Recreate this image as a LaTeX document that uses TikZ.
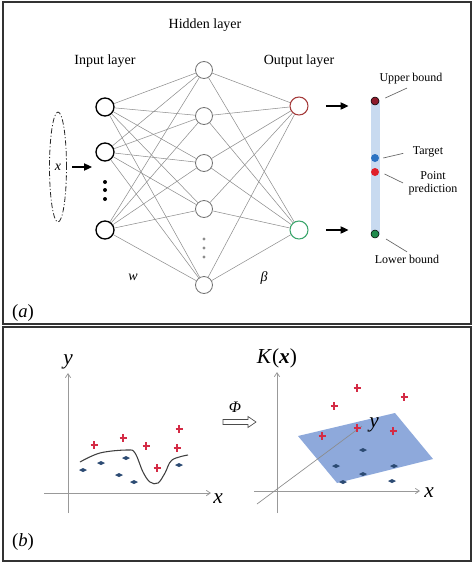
\documentclass[tikz,border=0pt]{standalone}
\usepackage{fontspec}
\setmainfont{Liberation Serif}
\usetikzlibrary{arrows.meta, shapes.geometric, positioning}

\definecolor{wiregray}{HTML}{8E8E8E}
\definecolor{outred}{HTML}{A53B3B}
\definecolor{outgreen}{HTML}{3CA66C}
\definecolor{barblue}{HTML}{C8DAF0}
\definecolor{ubred}{HTML}{8E1B2C}
\definecolor{tgblue}{HTML}{2B72C2}
\definecolor{ppred}{HTML}{E0202A}
\definecolor{lbgreen}{HTML}{1F8A4C}
\definecolor{plusred}{HTML}{D42B45}
\definecolor{diamblue}{HTML}{2C4B73}
\definecolor{planeblue}{HTML}{8EA9DB}

\tikzset{
  panel/.style={draw=black!80, line width=1pt},
  inneuron/.style={circle, draw=black, line width=1pt, fill=white, minimum size=13.5pt, inner sep=0pt},
  hidneuron/.style={circle, draw=black!55, line width=0.6pt, fill=white, minimum size=12.75pt, inner sep=0pt},
  outneuron/.style={circle, line width=0.8pt, fill=white, minimum size=13.5pt, inner sep=0pt},
  wire/.style={draw=wiregray, line width=0.4pt},
  arr/.style={line width=0.8pt, -{Triangle[length=6pt,width=5.5pt]}},
  small/.style={font=\fontsize{9}{10}\selectfont, inner sep=1pt},
  lead/.style={draw=black!60, line width=0.5pt},
  dotmark/.style={circle, minimum size=6pt, inner sep=0pt},
  axis/.style={draw=black!40, line width=0.6pt, -{Straight Barb[length=3pt,width=4pt]}},
  axlabel/.style={font=\fontsize{16}{18}\selectfont\itshape, inner sep=1pt},
  plusmk/.style={draw=plusred, line width=1.1pt},
  panellabel/.style={font=\fontsize{14}{16}\selectfont},
}

\begin{document}
\begin{tikzpicture}[x=0.75pt, y=-0.75pt, font=\fontsize{10.5}{12}\selectfont]
    \useasboundingbox (0,0) rectangle (474,568);

    % Panels
    \draw[panel] (3,2) rectangle (471,324);
    \draw[panel] (3,327) rectangle (471,561);

    % ================================
    % (a) network

    % Layer titles
    \node (hidl) at (205,25) {Hidden layer};
    \node (inl) at (105,61) {Input layer};
    \node (outl) at (299,61) {Output layer};

    % Input layer
    \foreach \n/\y in {1/107, 2/152, 3/230}
        \node[inneuron] (in\n) at (105,\y) {};
    \foreach \y in {182,190,199}
        \fill (105,\y) circle (1.5pt);

    % Hidden layer
    \foreach \n/\y in {1/70, 2/116, 3/163, 4/209, 5/285}
        \node[hidneuron] (hid\n) at (204,\y) {};
    \foreach \y in {239,248,257}
        \fill[black!45] (204,\y) circle (1.2pt);

    % Output layer
    \node[outneuron, draw=outred] (out1) at (299,106) {};
    \node[outneuron, draw=outgreen] (out2) at (299,230) {};

    % Weights
    \foreach \i in {1,2,3}
        \foreach \j in {1,...,5}
            \draw[wire] (in\i) -- (hid\j);
    \foreach \j in {1,...,5}
        \foreach \k in {1,2}
            \draw[wire] (hid\j) -- (out\k);

    \node (wl) at (133,277) {\textit{w}};
    \node (bl) at (264,278) {\textit{β}};

    % Input vector
    \node[draw=black!85, ellipse, dash pattern=on 4pt off 1.6pt on 0.8pt off 1.6pt, line width=0.6pt,
          minimum width=12.75pt, minimum height=82.5pt, inner sep=0pt] (xvec) at (58,167) {\textit{x}};
    \coordinate (xtip) at (92,167);
    \draw[arr] ([xshift=4pt]xvec.east) -- (xtip);

    % ================================
    % Prediction interval

    \node[fill=barblue, minimum width=6.75pt, minimum height=101.25pt, inner sep=0pt] (pibar) at (375.5,167.5) {};
    \node[dotmark, draw=black, fill=ubred] (ub) at (375,101) {};
    \node[dotmark, fill=tgblue] (tg) at (375,158) {};
    \node[dotmark, fill=ppred] (pp) at (375,172) {};
    \node[dotmark, draw=black, fill=lbgreen] (lb) at (375,234) {};

    \draw[arr] ([xshift=13pt]out1.east) -- ++(17pt,0pt);
    \draw[arr] ([xshift=13pt]out2.east) -- ++(17pt,0pt);

    \node[small] (ubl) at (411,79) {Upper bound};
    \node[small] (tgl) at (428,152) {Target};
    \node[small, align=center] (ppl) at (433,183) {Point\\prediction};
    \node[small] (lbl) at (407,259) {Lower bound};

    \draw[lead] ([shift={(4.5pt,2.25pt)}]ub.east) -- ([shift={(-3pt,-1.5pt)}]ubl.south);
    \draw[lead] ([xshift=3pt]tg.east) -- ([shift={(-6pt,-1pt)}]tgl.west);
    \draw[lead] ([shift={(4pt,-1.5pt)}]pp.east) -- ([xshift=-3pt]ppl.west);
    \draw[lead] ([shift={(6pt,-1.5pt)}]lb.south east) -- ([yshift=1pt]lbl.north);

    \node[panellabel] (la) at (23,313) {(\textit{a})};

    % ================================
    % (b) kernel mapping

    % Input space
    \draw[axis] (68,513) -- (68,373);
    \draw[axis] (44,493) -- (211,493);
    \node[axlabel] (ly) at (68,362) {y};
    \node[axlabel] (lx) at (218,499) {x};

    \draw[black!75, line width=0.8pt] plot[smooth, tension=0.6] coordinates
        {(80,462) (100,453) (127,450) (135,453) (143,472) (150,482) (158,483) (165,473) (172,460) (188,455)};

    \foreach \x/\y in {94/445, 123/438, 146/446, 157/468, 177/448, 179/429}
        \draw[plusmk] (\x,\y) +(-3.5,0) -- +(3.5,0) +(0,-4) -- +(0,4);
    \foreach \x/\y in {83/470, 101/463, 126/458, 119/475, 134/482, 179/465}
        \fill[diamblue] (\x,\y) +(-4,0) -- +(0,-2) -- +(4,0) -- +(0,2) -- cycle;

    % Mapping
    \node[font=\fontsize{12}{14}\selectfont] (phi) at (235,407) {\textit{Φ}};
    \draw[black!70, fill=white, line width=0.5pt] (223,419.5) -- (248,419.5) -- (248,416.5) -- (256,422)
        -- (248,427.5) -- (248,424.5) -- (223,424.5) -- cycle;

    % Feature space
    \draw[axis] (277,513) -- (277,372);
    \draw[axis] (254,491) -- (420,491);
    \node[axlabel, font=\fontsize{16}{18}\selectfont] (lk) at (277,358) {\textit{K}(\textbf{\textit{x}})};
    \node[axlabel] (lx2) at (429,493) {x};

    \fill[planeblue] (298,436) -- (395,413) -- (433,459) -- (337,483) -- cycle;
    \draw[black!45, line width=0.5pt] (257,504) -- (362,426);
    \node[axlabel] (ly2) at (374,425) {y};

    \foreach \x/\y in {357/388, 334/406, 404/397, 322/436, 357/428, 393/431}
        \draw[plusmk] (\x,\y) +(-3.5,0) -- +(3.5,0) +(0,-4) -- +(0,4);
    \foreach \x/\y in {363/450, 336/466, 394/466, 363/474, 343/482, 392/481}
        \fill[diamblue] (\x,\y) +(-4,0) -- +(0,-2) -- +(4,0) -- +(0,2) -- cycle;

    \node[panellabel] (lb2) at (23,542) {(\textit{b})};

\end{tikzpicture}
\end{document}
